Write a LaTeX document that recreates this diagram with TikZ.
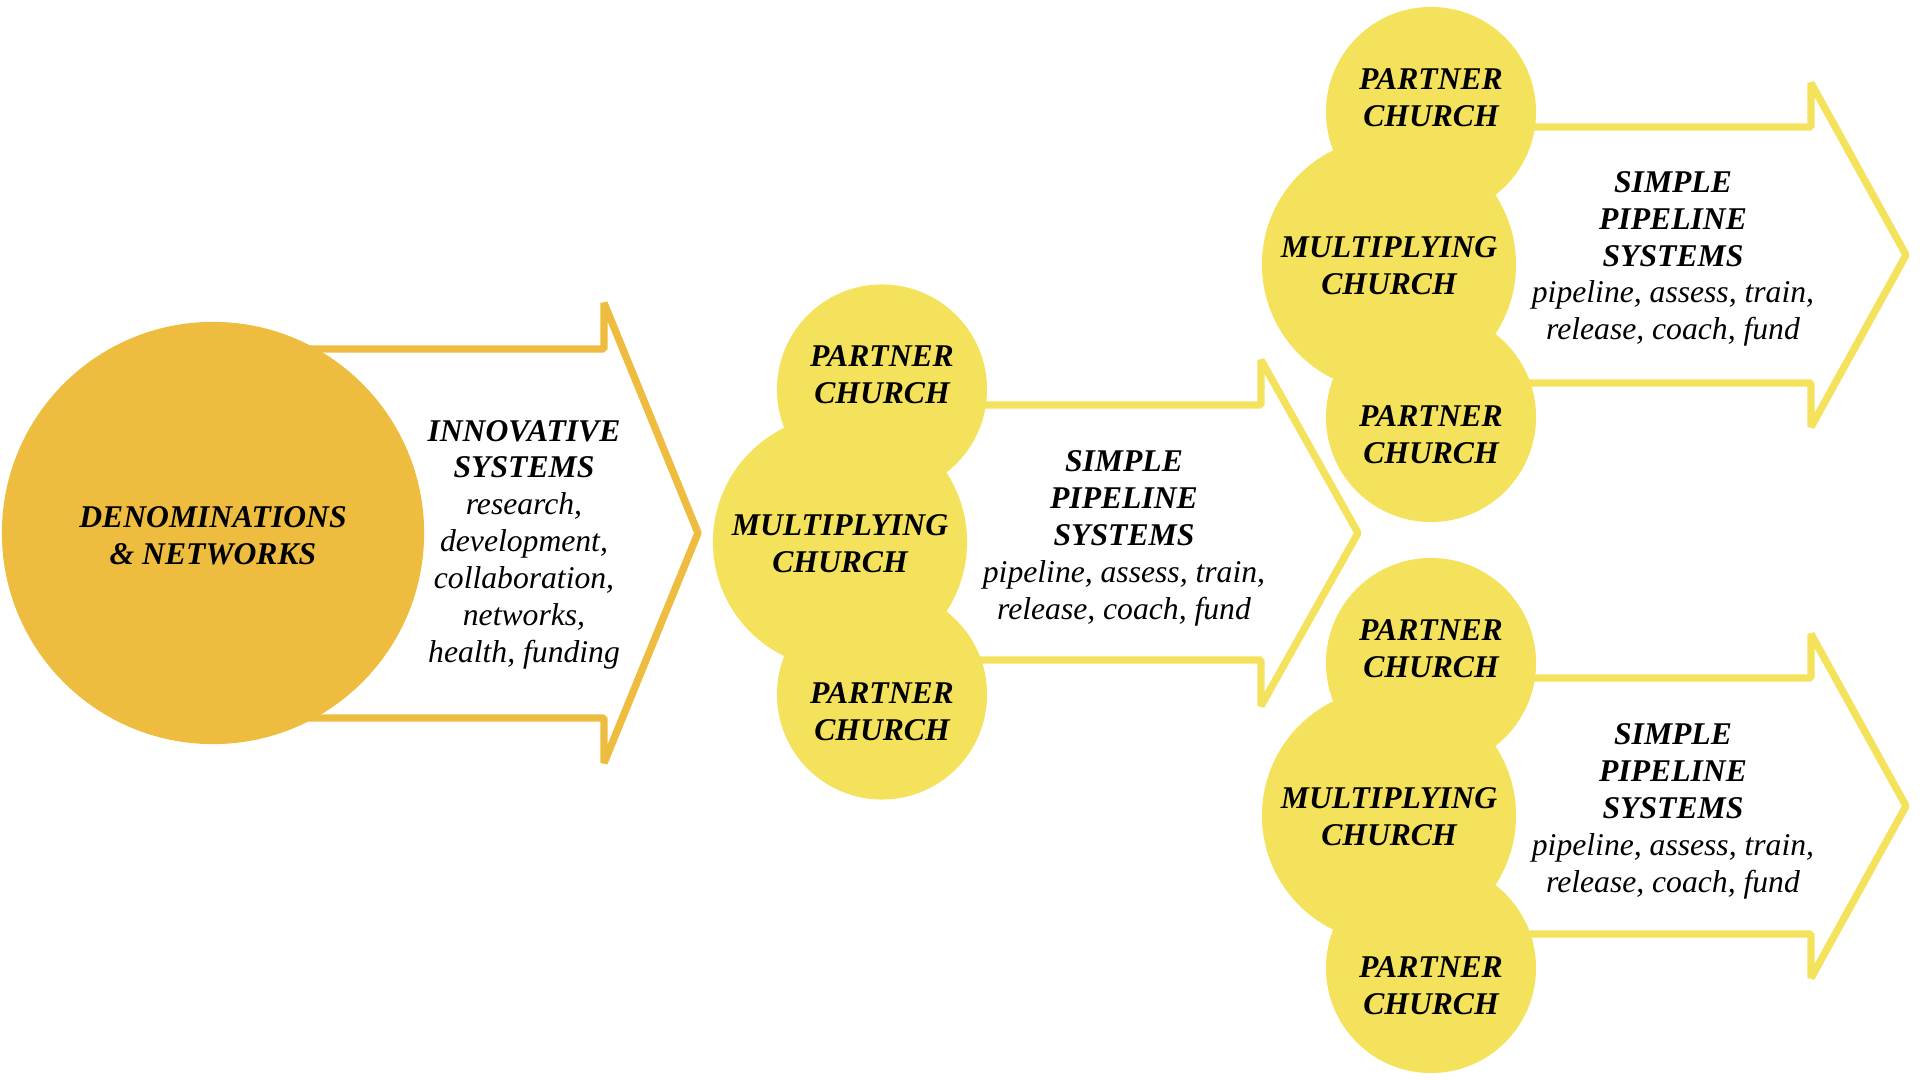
\documentclass[tikz,border=0pt]{standalone}
\usepackage{fontspec}
\setmainfont{Liberation Serif}
\usetikzlibrary{positioning}
\definecolor{gold}{RGB}{238,189,64}
\definecolor{sun}{RGB}{245,226,92}
\tikzset{
    %Define style for the filled discs
    disc/.style={
           circle,
           inner sep=0pt,
           align=center,
           font=\fontsize{9}{10.47}\selectfont\bfseries\itshape},
    bigdisc/.style={disc, fill=gold, minimum size=4.22cm},
    multdisc/.style={disc, fill=sun, minimum size=2.54cm},
    partdisc/.style={disc, fill=sun, minimum size=2.10cm},
    % Define style for the texts
    tag/.style={
           align=center,
           font=\fontsize{9}{10.47}\selectfont\bfseries\itshape},
    sys/.style={
           align=center,
           font=\fontsize{9}{10.47}\selectfont\itshape},
    % Define style for the arrow outlines
    pipe/.style={
           draw=sun,
           line width=2.1pt,
           line join=bevel},
    pipegold/.style={pipe, draw=gold}
}
\begin{document}
\begin{tikzpicture}[x=0.01cm, y=-0.01cm]
 \useasboundingbox (0,0) rectangle (1920,1080);
 % arrow outlines
 \draw[pipegold] (213,349) -- (604,349) -- (604,303) -- (698,533) -- (604,763) -- (604,718) -- (213,718);
 \draw[pipe] (882,405) -- (1261,405) -- (1261,360) -- (1358,533) -- (1261,706) -- (1261,660) -- (882,660);
 \draw[pipe] (1431,127) -- (1811,127) -- (1811,83) -- (1906,255) -- (1811,427) -- (1811,383) -- (1431,383);
 \draw[pipe] (1431,678) -- (1811,678) -- (1811,634) -- (1906,806) -- (1811,978) -- (1811,934) -- (1431,934);
 % discs
 \node[bigdisc] (den) at (213,533) {};
 \node[partdisc] (part1a) at (882,389.5) {};
 \node[partdisc] (part1b) at (882,694.5) {};
 \node[multdisc] (mult1) at (840,542) {};
 \node[partdisc] (part2a) at (1431,112) {};
 \node[partdisc] (part2b) at (1431,417) {};
 \node[multdisc] (mult2) at (1389,264.5) {};
 \node[partdisc] (part3a) at (1431,663) {};
 \node[partdisc] (part3b) at (1431,968) {};
 \node[multdisc] (mult3) at (1389,815.5) {};
 % disc labels
 \node[tag] (den-t) at (213,536) {DENOMINATIONS\\\& NETWORKS};
 \node[tag] (mult1-t) at (840,543.5) {MULTIPLYING\\CHURCH};
 \node[tag] (mult2-t) at (1389,266) {MULTIPLYING\\CHURCH};
 \node[tag] (mult3-t) at (1389,817) {MULTIPLYING\\CHURCH};
 \node[tag] (part1a-t) at (882,375) {PARTNER\\CHURCH};
 \node[tag] (part1b-t) at (882,712) {PARTNER\\CHURCH};
 \node[tag] (part2a-t) at (1431,97.5) {PARTNER\\CHURCH};
 \node[tag] (part2b-t) at (1431,434.5) {PARTNER\\CHURCH};
 \node[tag] (part3a-t) at (1431,648.5) {PARTNER\\CHURCH};
 \node[tag] (part3b-t) at (1431,985.5) {PARTNER\\CHURCH};
 % arrow texts
 \node[sys] (sys1) at (524,544.5) {\textbf{INNOVATIVE}\\\textbf{SYSTEMS}\\research,\\development,\\collaboration,\\networks,\\health, funding};
 \node[sys] (sys2) at (1124,538.5) {\textbf{SIMPLE}\\\textbf{PIPELINE}\\\textbf{SYSTEMS}\\pipeline, assess, train,\\release, coach, fund};
 \node[sys] (sys3) at (1673,259) {\textbf{SIMPLE}\\\textbf{PIPELINE}\\\textbf{SYSTEMS}\\pipeline, assess, train,\\release, coach, fund};
 \node[sys] (sys4) at (1673,811.5) {\textbf{SIMPLE}\\\textbf{PIPELINE}\\\textbf{SYSTEMS}\\pipeline, assess, train,\\release, coach, fund};
\end{tikzpicture}
\end{document}
